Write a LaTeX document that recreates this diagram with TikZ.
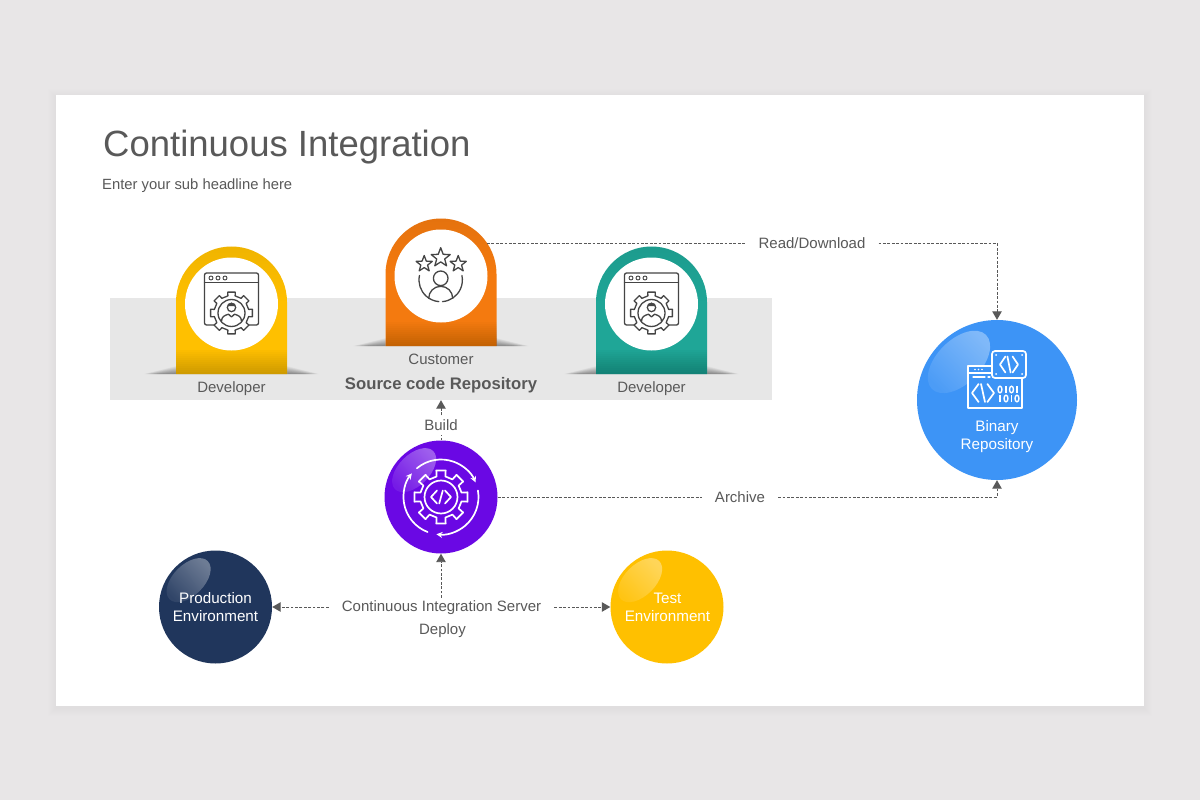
\documentclass[tikz,border=0pt]{standalone}
\usepackage{fontspec}
\setmainfont{Liberation Sans}
\usetikzlibrary{arrows.meta,fadings,calc}
\definecolor{pagebg}{HTML}{E8E6E7}
\definecolor{bandgray}{HTML}{E7E7E7}
\definecolor{txt}{HTML}{595959}
\definecolor{icn}{HTML}{454545}
\definecolor{cyellow}{HTML}{FFC000}
\definecolor{corange}{HTML}{F47A0F}
\definecolor{cteal}{HTML}{1FA697}
\definecolor{cblue}{HTML}{3D94F6}
\definecolor{cpurple}{HTML}{6A08E4}
\definecolor{cnavy}{HTML}{20365C}
\tikzfading[name=pintop, top color=transparent!94, bottom color=transparent!100]
\tikzfading[name=glossfade, left color=transparent!92, right color=transparent!65]
\tikzset{
  conn/.style={draw=txt,line width=0.95pt,dash pattern=on 2.8pt off 1.6pt},
  tipped/.style={-{Triangle[length=8.5pt,width=9.5pt,fill=txt]}},
  lbl/.style={text=txt,font=\fontsize{15}{18}\selectfont,inner sep=0pt,align=center},
  gap/.style={lbl,inner xsep=13pt,inner ysep=2pt},
  pinbox/.style={minimum width=110pt,minimum height=127pt,inner sep=0pt},
  ball/.style={circle,inner sep=0pt,minimum size=#1},
  ballt/.style={text=white,font=\fontsize{15.2}{18}\selectfont,align=center},
  iconline/.style={draw=icn,line width=1.3pt,line join=round,line cap=round},
  wline/.style={draw=white,line width=1.7pt,line join=round,line cap=round}
}
\newcommand\gearteeth[4][]{%
  \path[#1] ({-10}:#3)
   \foreach \k [evaluate=\k as \a using \k*45] in {0,1,2,3,4,5,6,7}
   { -- ({\a-10}:#3) -- ({\a+10}:#3) -- ({\a+12}:#2) -- ({\a+33}:#2) } -- cycle;
}
\newcommand\mystar[3]{%
  \draw[iconline] ({#1+0},{#2+#3}) -- ({#1+0.42*#3*cos(54)},{#2+0.42*#3*sin(54)})
   -- ({#1+#3*cos(18)},{#2+#3*sin(18)}) -- ({#1+0.42*#3*cos(18)},{#2-0.42*#3*sin(18)})
   -- ({#1+#3*cos(54)},{#2-#3*sin(54)}) -- ({#1},{#2-0.42*#3})
   -- ({#1-#3*cos(54)},{#2-#3*sin(54)}) -- ({#1-0.42*#3*cos(18)},{#2-0.42*#3*sin(18)})
   -- ({#1-#3*cos(18)},{#2+#3*sin(18)}) -- ({#1-0.42*#3*cos(54)},{#2+0.42*#3*sin(54)}) -- cycle;
}
\newcommand\mycode[5][wline]{%
  \draw[#1] ({#2-0.4*#5},{#3+#4}) -- ({#2-#5},{#3}) -- ({#2-0.4*#5},{#3-#4});
  \draw[#1] ({#2+0.4*#5},{#3+#4}) -- ({#2+#5},{#3}) -- ({#2+0.4*#5},{#3-#4});
  \draw[#1] ({#2-0.18*#5},{#3-#4}) -- ({#2+0.18*#5},{#3+#4});
}
\newcommand\devicon[1]{%
  \begin{scope}[shift={(#1,313)},yscale=-1]
    \draw[iconline,fill=white,rounded corners=2pt] (-27,-12) -- (-27,40) -- (27,40) -- (27,-12) -- cycle;
    \draw[iconline] (-27,30.5) -- (27,30.5);
    \foreach \dx in {-20.5,-13.5,-6.5} \draw[icn,line width=0.9pt] (\dx,35) circle (2);
    \gearteeth[iconline,fill=white]{17.5}{21.2}{8}
    \draw[iconline] (0,0) circle (13.5);
    \draw[iconline] (0,5.5) circle (4.2);
    \fill[icn] (-4.4,6) arc[start angle=180,end angle=0,radius=4.4] -- (4.2,7) -- (-4.2,7) -- cycle;
    \draw[iconline] (-10,-8.5) .. controls (-10,-3.5) and (-7,-2.5) .. (-3,-1.2) -- (0,-4) -- (3,-1.2) .. controls (7,-2.5) and (10,-3.5) .. (10,-8.5);
  \end{scope}
}
\newcommand\pinshape[3]{% centre x, bottom y, colour
  \foreach \h in {1,2,...,15}
    \fill[black,opacity=0.032] ({#1-72-\h*1.05},#2) .. controls ({#1-55},{#2-0.5*\h}) and ({#1-35},{#2-\h}) .. (#1,{#2-\h})
       .. controls ({#1+35},{#2-\h}) and ({#1+55},{#2-0.5*\h}) .. ({#1+72+\h*1.05},#2) -- cycle;
  \fill[#3] (#1-55.5,#2) -- (#1-55.5,#2-72) arc[start angle=180,end angle=360,radius=55.5] -- (#1+55.5,#2) -- cycle;
  \fill[black,path fading=pintop] (#1-55.5,#2-72) arc[start angle=180,end angle=360,radius=55.5] -- cycle;
  \foreach \h in {1,2,...,12}
    \fill[black,opacity=0.014] (#1-55.5,{#2-2*\h}) rectangle (#1+55.5,#2);
  \fill[white] (#1,#2-70) circle (46.5);
}
\newcommand\gloss[3]{%
  \begin{scope}[shift={(#1,#2)},yscale=-1,scale=#3/56.5]
    \fill[white,path fading=glossfade,fading angle=40,rotate around={-45:(135:38)}] (135:38) ellipse (27 and 15.5);
  \end{scope}
}
\begin{document}
\begin{tikzpicture}[x=1pt,y=-1pt]
\useasboundingbox (0,0) rectangle (1200,800);
\fill[pagebg] (0,0) rectangle (1200,800);
% card
\foreach \e in {1,2,...,8}
  \fill[black,opacity=0.0025] (56-\e,95-\e+2) rectangle (1144+\e,706+\e+2);
\node[fill=white,minimum width=1088pt,minimum height=611pt,inner sep=0pt] (card) at (600,400.5) {};
% title
\node[anchor=base west,text=txt,font=\fontsize{36.5}{44}\selectfont,inner sep=0pt] (title) at (103,156.5) {Continuous Integration};
\node[anchor=base west,text=txt,font=\fontsize{14.8}{18}\selectfont,inner sep=0pt] (sub) at (102,189) {Enter your sub headline here};
% band
\node[fill=bandgray,minimum width=662pt,minimum height=102pt,inner sep=0pt] (band) at (441,349) {};
% pins
\node[pinbox] (pinA) at (231.5,310.5) {};
\node[pinbox] (pinB) at (441,282.5) {};
\node[pinbox] (pinC) at (651.5,310.5) {};
\pinshape{231.5}{374}{cyellow}
\pinshape{441}{346}{corange}
\pinshape{651.5}{374}{cteal}
\devicon{231.5}
\devicon{651.5}
% customer icon
\begin{scope}[shift={(440.7,280)},yscale=-1]
  \mystar{0}{22.3}{10}
  \mystar{-16.5}{16}{8.5}
  \mystar{17.5}{16}{8.5}
  \draw[iconline] (0,1.7) circle (7.3);
  \draw[iconline] (-12,-18.3) arc[start angle=180,end angle=0,radius=12];
  \draw[iconline] (168:21.7) arc[start angle=168,end angle=265,radius=21.7];
  \draw[iconline] (-85:21.7) arc[start angle=-85,end angle=12,radius=21.7];
\end{scope}
\node[lbl] (devA) at (231.5,389) {Developer};
\node[lbl] (cust) at (441,359.5) {Customer};
\node[lbl] (devC) at (651.5,389) {Developer};
\node[text=txt,font=\bfseries\fontsize{16.7}{20}\selectfont,inner sep=0pt] (src) at (441,385.5) {Source code Repository};
% balls
\node[ball=160pt,fill=cblue] (blue) at (997,400) {};
\node[ball=113pt,fill=cpurple] (purple) at (441,497) {};
\node[ball=113pt,fill=cnavy] (navy) at (215.5,607) {};
\node[ball=113pt,fill=cyellow] (yellow) at (667,607) {};
\gloss{997}{400}{80}
\gloss{441}{497}{56.5}
\gloss{215.5}{607}{56.5}
\gloss{667}{607}{56.5}
\node[ballt] (navyLbl) at (215.5,607.5) {Production\\Environment};
\node[ballt] (yellowLbl) at (667.5,607.5) {Test\\Environment};
\node[ballt] (blueLbl) at (997,437) {Binary\\Repository};
% binary icon
\draw[wline,fill=cblue] (968,366) rectangle (1022,408);
\draw[wline] (968,373) -- (992,373);
\foreach \dx in {975,978.5,982} \fill[white] (\dx,369.5) circle (0.9);
\draw[wline,line width=1.2pt] (973,377) -- (985,377) (988,377) -- (990,377);
\mycode{983}{393}{9}{11}
\foreach \dx/\dy in {1000/389.5,1011.5/389.5,1006/398.5,1017/398.5}
  \draw[white,line width=1.4pt] (\dx,\dy) ellipse (2 and 3.3);
\foreach \dx/\dy in {1006/389.5,1017/389.5,1000/398.5,1011.5/398.5}
  \draw[white,line width=1.6pt] (\dx,\dy-3.3) -- (\dx,\dy+3.3);
\draw[wline,fill=cblue,rounded corners=3pt] (992,351) rectangle (1026,378);
\mycode{1009}{364.5}{8}{9}
\foreach \dx/\dy in {996/355,1022/355,996/374,1022/374} \fill[white] (\dx,\dy) circle (1);
% purple icon
\begin{scope}[shift={(441,497)},yscale=-1]
  \gearteeth[wline]{21}{27}{8}
  \draw[wline] (0,0) circle (16.5);
  \mycode{0}{0}{6.5}{10}
  \draw[wline,-{Stealth[length=6pt,width=6pt]}] (130:37.5) arc[start angle=130,end angle=23,radius=37.5];
  \draw[wline,-{Stealth[length=6pt,width=6pt]}] (10:37.5) arc[start angle=10,end angle=-97,radius=37.5];
  \draw[wline,-{Stealth[length=6pt,width=6pt]}] (-111:37.5) arc[start angle=-111,end angle=-219,radius=37.5];
\end{scope}
% connector labels
\node[gap] (read) at (812,243) {Read/Download};
\node[gap] (arch) at (740,497) {Archive};
\node[gap,inner ysep=4pt] (build) at (441,425) {Build};
\node[gap,inner xsep=13pt,inner ysep=3pt] (ci) at (441.5,608) {Continuous Integration Server};
\node[lbl] (deploy) at (442.5,631) {Deploy};
\coordinate (readStart) at (487,243);
% connectors
\draw[conn] (readStart) -- (read.west);
\draw[conn,tipped] (read.east) -| (blue.north);
\draw[conn] (purple.east) -- (arch.west);
\draw[conn,tipped] (arch.east) -| (blue.south);
\draw[conn] (purple.north) -- (build.south);
\draw[conn,tipped] (build.north) -- (band.south);
\draw[conn,tipped] (purple.south |- ci.north) -- (purple.south);
\draw[conn,tipped] (ci.west |- navy.east) -- (navy.east);
\draw[conn,tipped] (ci.east |- yellow.west) -- (yellow.west);
\end{tikzpicture}
\end{document}
